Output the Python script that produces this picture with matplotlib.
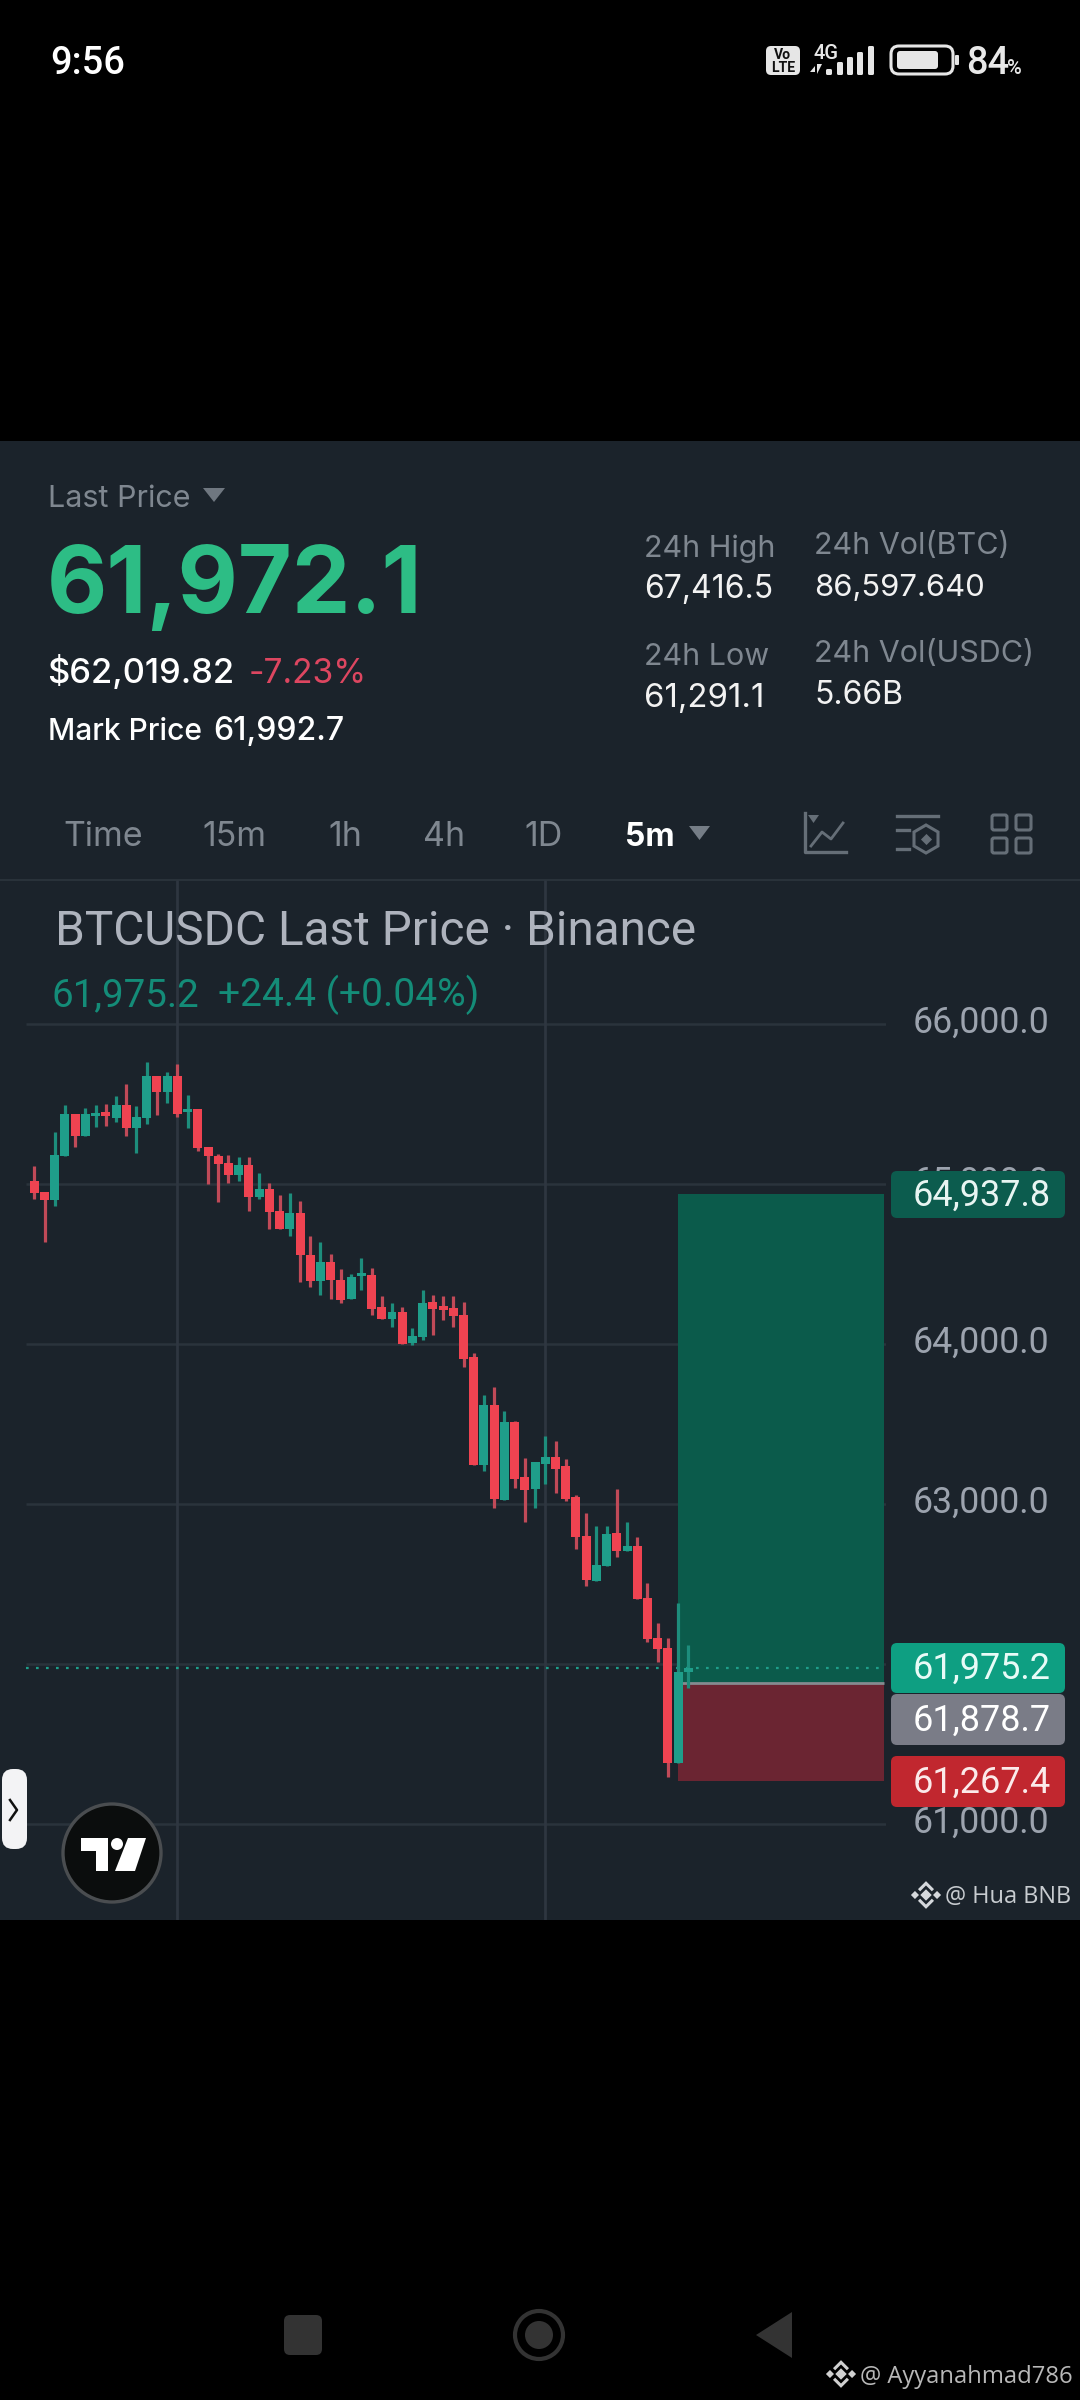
import matplotlib
matplotlib.use("Agg")
import matplotlib.pyplot as plt
from matplotlib.patches import Rectangle, FancyBboxPatch, Circle, Polygon
from matplotlib.transforms import ScaledTranslation

# ---- data ----
opens = [65021,64952,64902,65177,65435,65298,65423,65448,65412,65496,65352,65412,65673,65573,65677,65452,65467,65231,65173,65131,65058,65121,64917,64971,64831,64721,64819,64558,64392,64513,64402,64283,64427,64433,64229,64156,64198,64006,64044,64260,64235,64225,64183,63917,63242,63621,63027,63512,63167,63096,63252,63292,63235,63042,62800,62521,62613,62817,62704,62737,62410,62160,62098,61383,61951]
highs = [65110,64952,65323,65492,65435,65475,65496,65502,65552,65627,65490,65760,65673,65698,65750,65558,65471,65231,65190,65183,65169,65169,65069,65006,64929,64944,64896,64677,64637,64565,64471,64438,64537,64475,64302,64256,64229,64100,64340,64308,64298,64298,64260,63944,63679,63729,63579,63521,63288,63260,63427,63396,63281,63056,62942,62863,62863,63092,62890,62792,62504,62254,62160,62379,62119]
lows = [64906,64637,64860,65177,65229,65298,65356,65365,65388,65298,65194,65377,65431,65506,65419,65352,65204,65002,64885,65006,65017,64829,64908,64721,64721,64677,64390,64354,64304,64281,64256,64283,64340,64183,64158,64104,64002,63996,64027,64054,64152,64106,63856,63242,63208,62975,63027,63100,62885,62975,63125,63069,63017,62719,62488,62521,62613,62667,62704,62404,62135,62015,61296,61383,61848]
closes = [64944,64902,65183,65435,65302,65435,65442,65427,65496,65352,65419,65677,65573,65677,65435,65467,65223,65173,65127,65058,65121,64917,64971,64827,64721,64819,64554,64392,64513,64398,64277,64417,64444,64221,64158,64200,64002,64052,64256,64221,64215,64173,63908,63242,63621,63033,63510,63158,63090,63260,63294,63219,63033,62796,62525,62619,62810,62706,62737,62404,62154,62094,61379,61952,61975]
price_ticks = [61000, 62000, 63000, 64000, 65000, 66000]
time_grid_bars = [14, 50]
last_price = 61975.2
take_profit = 64937.8
entry_price = 61878.7
stop_loss = 61267.4
position_start_bar = 63
position_end_bar = 83.1
tab_labels = ["Time", "15m", "1h", "4h", "1D"]
tab_x = [63, 202, 328, 423, 524]

BG = "#1b232b"
GREEN = "#1f9e8a"
RED = "#ef4351"
GREEN_W = "#1d8d7c"
RED_W = "#c04a58"
GREY = "#7f8790"
W, H = 1080, 2400

fig = plt.figure(figsize=(W/100, H/100), dpi=100, facecolor="black")

# background pixel layer
bg = fig.add_axes([0, 0, 1, 1], zorder=0)
bg.set_xlim(0, W); bg.set_ylim(H, 0); bg.axis("off")
bg.add_patch(Rectangle((0, 441), W, 1479, fc=BG, ec="none"))
bg.plot([0, W], [880, 880], color="#29323a", lw=1.5)

# chart axes: price scale 160 px per 1000, bars 10.22 px apart
PX_BAR = 10.22
X0 = 34.3
ax_w = 886
ax = fig.add_axes([0, (H-1920)/H, ax_w/W, (1920-880)/H], zorder=1)
ax.patch.set_visible(False)
ax.set_xlim(-X0/PX_BAR, (ax_w-X0)/PX_BAR)
ax.set_ylim(61000-96/0.16, 61000+944/0.16)
for s in ax.spines.values():
    s.set_visible(False)
ax.set_xticks([])
ax.yaxis.tick_right()
ax.set_yticks(price_ticks)
ax.set_yticklabels([f"{p:,.1f}" for p in price_ticks], fontsize=25.7, color="#9ca3ae", family="Roboto")
ax.tick_params(axis="y", length=0, pad=19.3)
off = ScaledTranslation(0, 5/100, fig.dpi_scale_trans)
for lb in ax.get_yticklabels():
    lb.set_transform(lb.get_transform() + off)

ax.hlines(price_ticks, (26-X0)/PX_BAR, (ax_w-X0)/PX_BAR, color="#2a333c", lw=1.8, zorder=1)
ax.vlines(time_grid_bars, *ax.get_ylim(), color="#2e3640", lw=2, zorder=1)

# long position tool
ax.add_patch(Rectangle((position_start_bar, entry_price), position_end_bar-position_start_bar,
                       take_profit-entry_price, fc="#0b5b4b", ec="none", zorder=2))
ax.add_patch(Rectangle((position_start_bar, stop_loss), position_end_bar-position_start_bar,
                       entry_price-stop_loss, fc="#6b2532", ec="none", zorder=2))
ax.hlines(entry_price, position_start_bar, position_end_bar, color="#858b90", lw=2, zorder=3)
ax.hlines(last_price, (26-X0)/PX_BAR, (ax_w-X0)/PX_BAR, color="#1f9e8a", lw=1.6,
          linestyles=[(0, (1.2, 3.3))], zorder=3)

# candles
for i, (o, h, l, c) in enumerate(zip(opens, highs, lows, closes)):
    up = c >= o
    ax.vlines(i, l, h, color=GREEN_W if up else RED_W, lw=2.3, zorder=4)
    ax.bar(i, abs(c-o), bottom=min(o, c), width=0.88, color=GREEN if up else RED, zorder=5)

# overlay pixel layer
ov = fig.add_axes([0, 0, 1, 1], zorder=2)
ov.patch.set_visible(False)
ov.set_xlim(0, W); ov.set_ylim(H, 0); ov.axis("off")

def txt(x, y, s, px, color="white", fam="Inter", weight="normal", ha="left", va="baseline"):
    return ov.text(x, y, s, fontsize=px*0.72, color=color, family=fam, weight=weight, ha=ha, va=va)

def rrect(x0, y0, x1, y1, r, fc, ec="none", lw=0):
    ov.add_patch(FancyBboxPatch((x0+r, y0+r), x1-x0-2*r, y1-y0-2*r,
                                boxstyle=f"round,pad={r},rounding_size={r}", fc=fc, ec=ec, lw=lw))

def binance_logo(cx, cy, s, color):
    ov.plot([cx-s*.45, cx, cx+s*.45], [cy-s*.45, cy-s*.9, cy-s*.45], color=color, lw=2.2, solid_joinstyle="miter")
    ov.plot([cx-s*.45, cx, cx+s*.45], [cy+s*.45, cy+s*.9, cy+s*.45], color=color, lw=2.2, solid_joinstyle="miter")
    ov.scatter([cx-s*.85, cx, cx+s*.85], [cy, cy, cy], marker="D", s=[s*1.3, s*2.6, s*1.3], color=color, lw=0)

# status bar
txt(50, 74, "9:56", 38, weight="medium", fam="Roboto")
rrect(766, 46, 800, 75, 5, "#e6e6e6")
txt(783, 59, "Vo", 14, color="#111", fam="Roboto", weight="bold", ha="center")
txt(783, 72, "LTE", 14, color="#111", fam="Roboto", weight="bold", ha="center")
txt(813, 59, "4G", 20, color="#e6e6e6", fam="Roboto", weight="medium")
ov.fill([810, 815, 815], [72, 72, 66], color="#e6e6e6", lw=0)
ov.fill([817, 822, 817], [64, 64, 74], color="#e6e6e6", lw=0)
for x, top in zip([829, 840, 850, 860, 871], [69, 62, 57, 52, 46]):
    rrect(x-3, top, x+3, 75, 1.5, "#e6e6e6")
rrect(891, 46, 953, 74, 8, "none", ec="#e6e6e6", lw=2.2)
rrect(897, 51, 938, 69, 3, "#e6e6e6")
rrect(955, 55, 959, 65, 1, "#e6e6e6")
txt(966, 74, "84", 38, color="#e8e8e8", fam="Roboto", weight="medium")
txt(1007, 74, "%", 20, color="#e8e8e8", fam="Roboto", weight="medium")

# header
txt(48, 507, "Last Price", 30.5, color=GREY)
ov.fill([203, 225, 214], [488, 488, 502], color="#6f7780", lw=0)
txt(47, 613, "61,972.1", 93, color="#2dbd85", weight="bold")
txt(47, 683, "$62,019.82", 34.5, weight="medium")
txt(249, 683, "-7.23%", 33.5, color="#dd4660")
txt(48, 740, "Mark Price", 30, weight="medium")
txt(213, 740, "61,992.7", 32, weight="medium")
txt(644, 557, "24h High", 30.5, color=GREY)
txt(644, 598, "67,416.5", 32, color="#f2f2f2")
txt(814, 554, "24h Vol(BTC)", 30.5, color=GREY)
txt(814, 596, "86,597.640", 31, color="#f2f2f2")
txt(644, 665, "24h Low", 30.5, color=GREY)
txt(644, 707, "61,291.1", 33, color="#f2f2f2")
txt(814, 662, "24h Vol(USDC)", 30.5, color=GREY)
txt(814, 704, "5.66B", 32, color="#f2f2f2")

# tabs
for x, t in zip(tab_x, tab_labels):
    txt(x, 846, t, 34, color=GREY)
txt(625, 846, "5m", 32, weight="bold")
ov.fill([689, 710, 699.5], [826, 826, 840], color="#757d86", lw=0)
ICON = "#656e77"
ov.plot([805, 805, 846], [813, 852, 852], color=ICON, lw=2.4)
ov.fill([808, 819, 813.5], [815, 815, 823], color=ICON, lw=0)
ov.plot([811, 822, 831, 843], [846, 832, 839, 823], color=ICON, lw=2)
ov.plot([897, 938], [816, 816], color=ICON, lw=2.4)
ov.plot([897, 909], [830, 830], color=ICON, lw=2.4)
ov.plot([897, 909], [849, 849], color=ICON, lw=2.4)
ov.add_patch(Polygon([(926, 825), (938, 832), (938, 846), (926, 853), (914, 846), (914, 832)], fc="none", ec=ICON, lw=2.2))
ov.scatter([926], [839], marker="D", s=32, color=ICON, lw=0)
for x in (992, 1016):
    for y in (815, 838):
        rrect(x, y, x+15, y+15, 2, "none", ec=ICON, lw=2.2)

# chart legend
txt(55, 945, "BTCUSDC Last Price · Binance", 47.8, color="#aeb3bd", fam="Roboto")
txt(51, 1006, "61,975.2", 38.5, color="#148c78", fam="Roboto")
txt(218, 1006, "+24.4 (+0.04%)", 39, color="#148c78", fam="Roboto")

# price tags
tags = [(take_profit, 1171, 1218, "#0c5c4e", "#e8f5f2"),
        (last_price, 1643, 1693, "#0e9f82", "#e8fbf7"),
        (entry_price, 1694, 1745, "#7a7c87", "#ffffff"),
        (stop_loss, 1756, 1807, "#c1272f", "#fbeaea")]
for p, y0, y1, fc, tc in tags:
    rrect(891, y0, 1065, y1, 6, fc)
    txt(913, (y0+y1)/2-3, f"{p:,.1f}", 36, color=tc, fam="Roboto", va="center_baseline")

# left handle and TV button
rrect(2, 1769, 27, 1849, 11, "#f3f3f5")
ov.plot([10, 17, 10], [1800, 1810, 1820], color="#111", lw=1.8)
ov.add_patch(Circle((112, 1853), 49, fc="#0b0d0d", ec="#4a4d50", lw=2.4))
ov.add_patch(Polygon([(81, 1838), (108, 1838), (108, 1871), (96, 1871), (96, 1851), (81, 1851)], fc="white", ec="none"))
ov.add_patch(Circle((117, 1844), 6, fc="white", ec="none"))
ov.add_patch(Polygon([(128, 1838), (146, 1838), (135, 1871), (115, 1871)], fc="white", ec="none"))

# watermarks
binance_logo(926, 1895, 13, "#d5d8dc")
txt(945, 1903, "@ Hua BNB", 23.5, color="#c8ccd0", fam="Open Sans")
binance_logo(841, 2374, 13, "#d0d0d0")
txt(860, 2383, "@ Ayyanahmad786", 23.7, color="#b8b8b8", fam="Open Sans")

# nav bar
NAV = "#333333"
rrect(284, 2315, 322, 2355, 6, NAV)
ov.add_patch(Circle((539, 2335), 24, fc="none", ec=NAV, lw=3))
ov.add_patch(Circle((539, 2335), 14, fc=NAV, ec="none"))
ov.add_patch(Polygon([(756, 2335), (792, 2312), (792, 2358)], fc=NAV, ec="none"))

fig.savefig("out.png", dpi=100, facecolor="black")
